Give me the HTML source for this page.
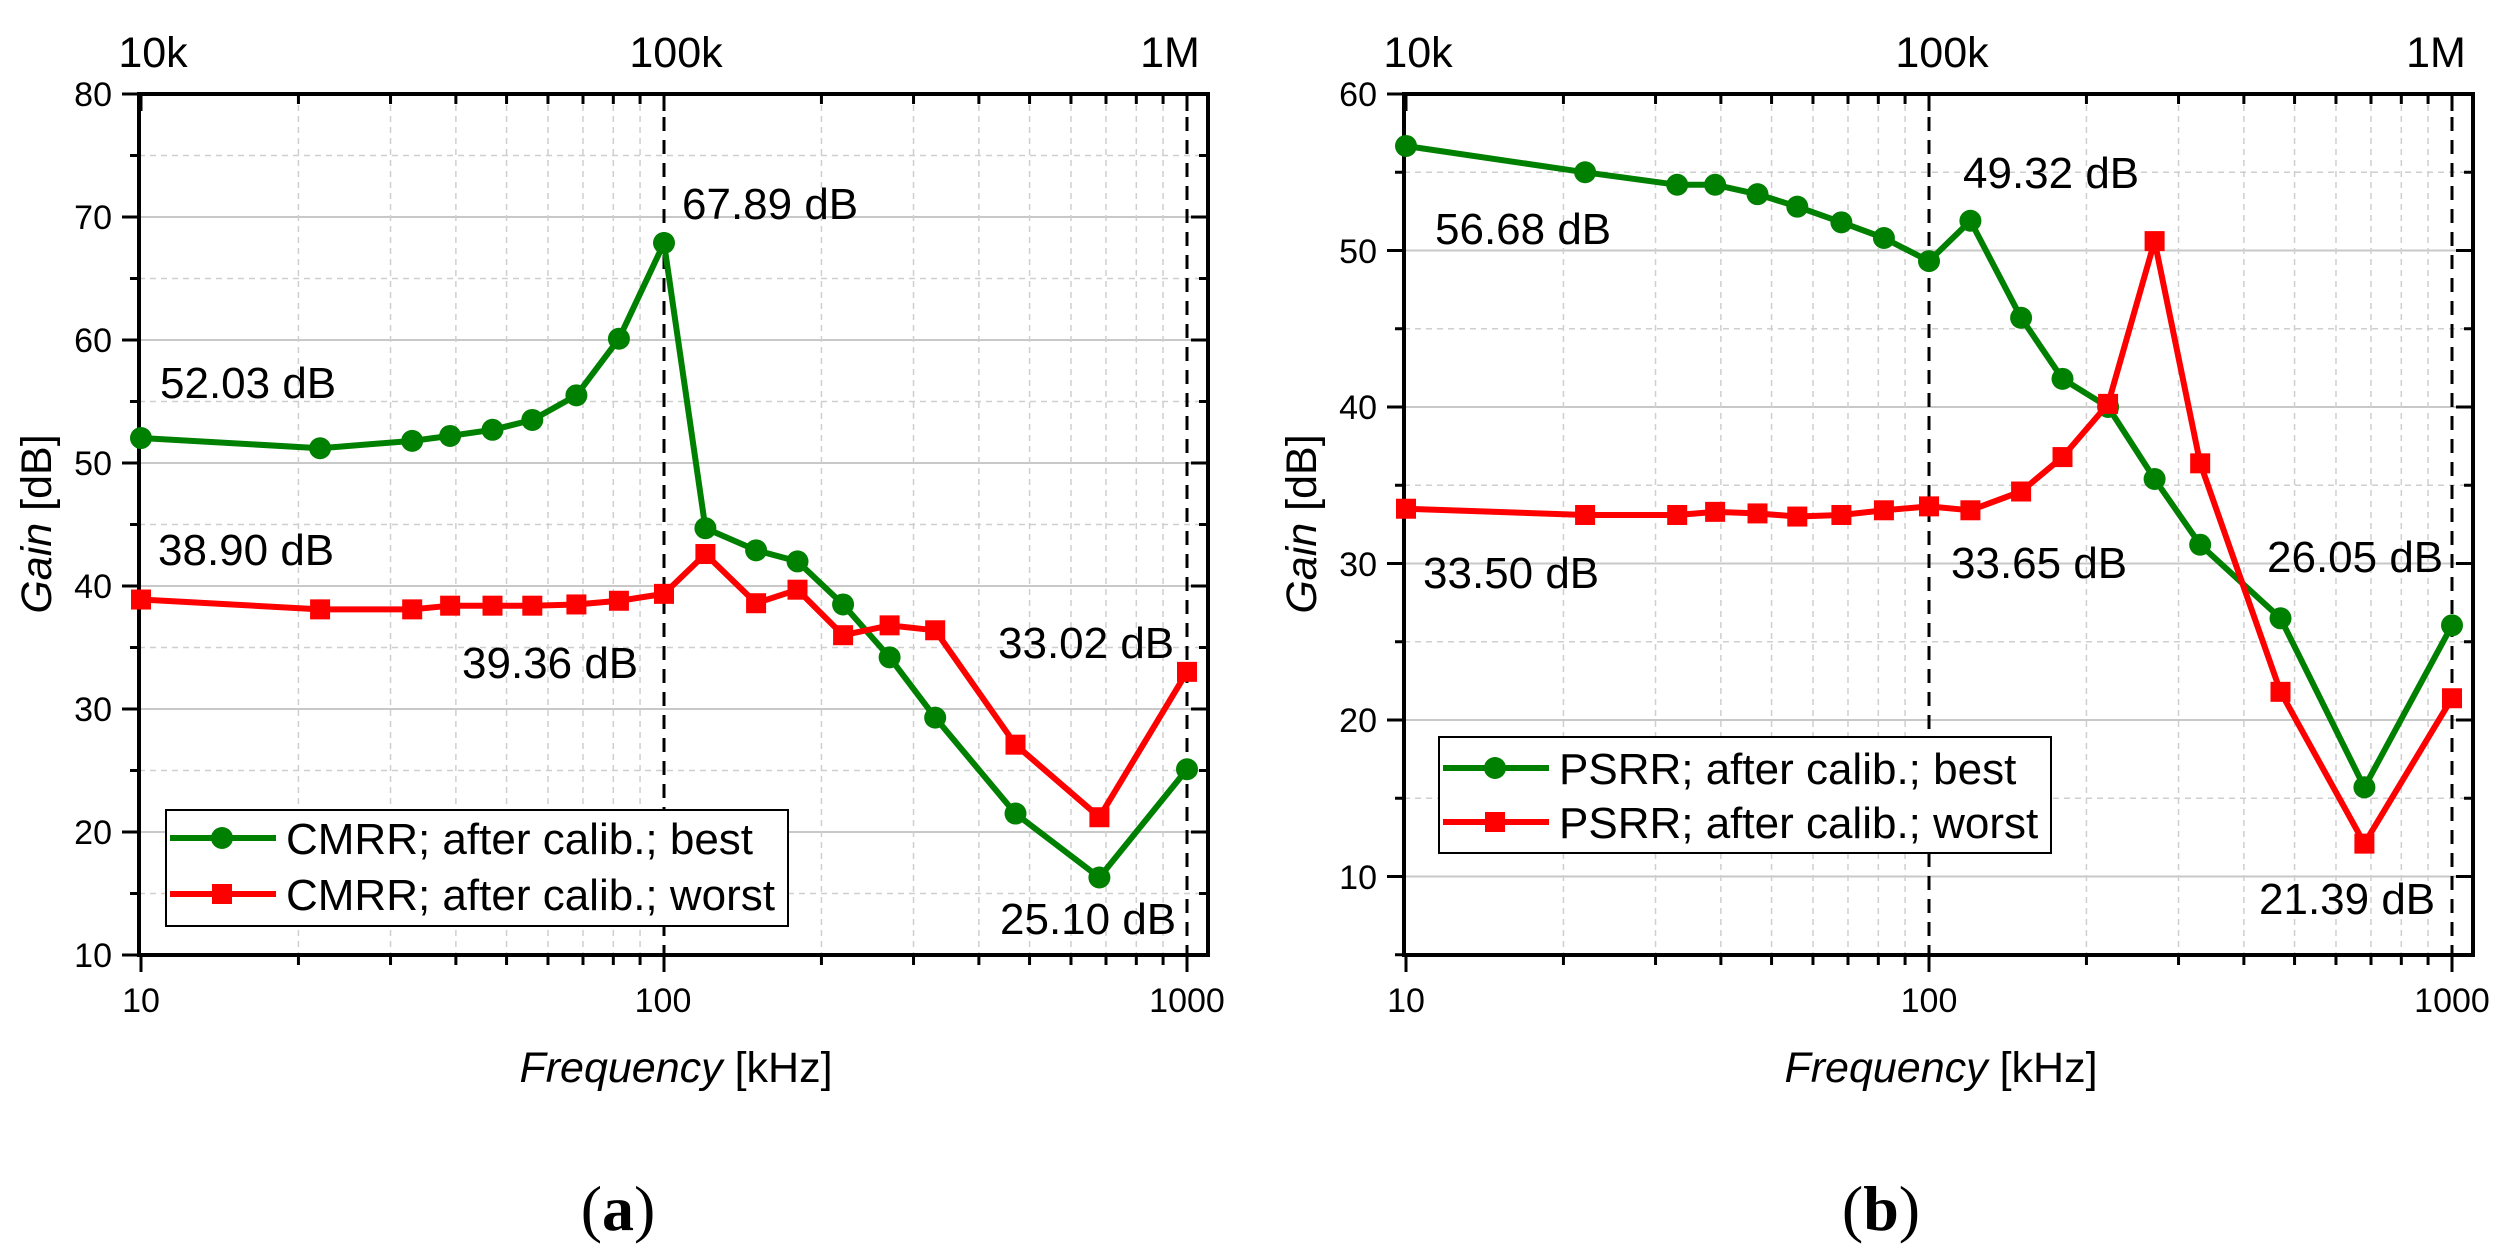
<!DOCTYPE html>
<html><head><meta charset="utf-8"><style>
html,body{margin:0;padding:0;background:#fff;}
svg{display:block;font-family:"Liberation Sans",Arial,sans-serif;}
.tk{font-size:34px;}
.tp{font-size:43px;}
.an{font-size:44px;}
.lg{font-size:44px;}
.ttl{font-size:43px;}
.cap{font-family:"Liberation Serif",serif;font-size:64px;}
</style></head><body>
<svg id="s" width="2499" height="1250" viewBox="0 0 2499 1250" xmlns="http://www.w3.org/2000/svg">
<g id="g"></g>
<g class="tk" text-anchor="end">
<text x="112" y="106">80</text><text x="112" y="229">70</text><text x="112" y="352">60</text><text x="112" y="475">50</text>
<text x="112" y="598">40</text><text x="112" y="721">30</text><text x="112" y="844">20</text><text x="112" y="967">10</text>
</g>
<g class="tk" text-anchor="middle">
<text x="141" y="1012">10</text><text x="663" y="1012">100</text><text x="1187" y="1012">1000</text>
<text x="1406" y="1012">10</text><text x="1929" y="1012">100</text><text x="2452" y="1012">1000</text>
</g>
<g class="tk" text-anchor="end">
<text x="1377" y="106">60</text><text x="1377" y="263">50</text><text x="1377" y="419">40</text><text x="1377" y="576">30</text>
<text x="1377" y="732">20</text><text x="1377" y="889">10</text>
</g>
<g class="tp" text-anchor="middle">
<text x="153" y="67">10k</text><text x="676" y="67">100k</text><text x="1170" y="67">1M</text>
<text x="1418" y="67">10k</text><text x="1942" y="67">100k</text><text x="2436" y="67">1M</text>
</g>
<g class="an">
<text x="160" y="398">52.03 dB</text><text x="682" y="219">67.89 dB</text><text x="158" y="565">38.90 dB</text>
<text x="462" y="678">39.36 dB</text><text x="998" y="658">33.02 dB</text><text x="1000" y="934">25.10 dB</text>
<text x="1435" y="244">56.68 dB</text><text x="1963" y="188">49.32 dB</text><text x="1423" y="588">33.50 dB</text>
<text x="1951" y="578">33.65 dB</text><text x="2267" y="572">26.05 dB</text><text x="2259" y="914">21.39 dB</text>
</g>
<g class="ttl" text-anchor="middle">
<text x="676" y="1082"><tspan font-style="italic">Frequency</tspan> [kHz]</text>
<text x="1941" y="1082"><tspan font-style="italic">Frequency</tspan> [kHz]</text>
<text transform="translate(51,524) rotate(-90)"><tspan font-style="italic">Gain</tspan> [dB]</text>
<text transform="translate(1316,524) rotate(-90)"><tspan font-style="italic">Gain</tspan> [dB]</text>
</g>
<g class="cap" text-anchor="middle">
<text x="618" y="1230">(<tspan font-weight="bold">a</tspan>)</text><text x="1881" y="1230">(<tspan font-weight="bold">b</tspan>)</text>
</g>
<rect x="166" y="810" width="622" height="116" fill="#fff" stroke="#000" stroke-width="2"/>
<line x1="170" y1="838" x2="276" y2="838" stroke="#008000" stroke-width="6"/><circle cx="222" cy="838" r="11" fill="#008000"/>
<line x1="170" y1="894" x2="276" y2="894" stroke="#ff0000" stroke-width="6"/><rect x="212" y="884" width="20" height="20" fill="#ff0000"/>
<text class="lg" x="286" y="854">CMRR; after calib.; best</text>
<text class="lg" x="286" y="910">CMRR; after calib.; worst</text>
<rect x="1439" y="737" width="612" height="116" fill="#fff" stroke="#000" stroke-width="2"/>
<line x1="1443" y1="768" x2="1549" y2="768" stroke="#008000" stroke-width="6"/><circle cx="1495" cy="768" r="11" fill="#008000"/>
<line x1="1443" y1="822" x2="1549" y2="822" stroke="#ff0000" stroke-width="6"/><rect x="1485" y="812" width="20" height="20" fill="#ff0000"/>
<text class="lg" x="1559" y="784">PSRR; after calib.; best</text>
<text class="lg" x="1559" y="838">PSRR; after calib.; worst</text>
</svg>
<script>
var NS="http://www.w3.org/2000/svg",G=document.getElementById("g");
function el(t,a){var e=document.createElementNS(NS,t);for(var k in a)e.setAttribute(k,a[k]);G.appendChild(e);return e;}
var F=[10,22,33,39,47,56,68,82,100,120,150,180,220,270,330,470,680,1000];
function plot(c){
 var X=function(f){return c.x0+523*Math.log10(f/10);},Y=function(v){return 94+(c.ymax-v)*c.py;};
 var L=c.x0-2,R=c.xr,T=94,B=955;
 for(var v=c.ymin;v<=c.ymax;v+=5){var y=Y(v);if(y<=T+1||y>=B-1)continue;
  if(v%10==0)el("line",{x1:L,x2:R,y1:y,y2:y,stroke:"#c8c8c8","stroke-width":2});
  else el("line",{x1:L,x2:R,y1:y,y2:y,stroke:"#cfcfcf","stroke-width":1.5,"stroke-dasharray":"6,5"});}
 [10,100].forEach(function(d){for(var m=2;m<=9;m++){var x=X(d*m);if(x>R)continue;el("line",{x1:x,x2:x,y1:T,y2:B,stroke:"#cfcfcf","stroke-width":1.5,"stroke-dasharray":"6,5"});}});
 [100,1000].forEach(function(d){var x=X(d);el("line",{x1:x,x2:x,y1:T,y2:B,stroke:"#000","stroke-width":3,"stroke-dasharray":"14,9"});});
 for(var v=c.ymin;v<=c.ymax;v+=5){var y=Y(v),mj=(v%10==0),l=mj?17:9;
  el("line",{x1:L-l,x2:L,y1:y,y2:y,stroke:"#000","stroke-width":3});
  el("line",{x1:R,x2:R-l,y1:y,y2:y,stroke:"#000","stroke-width":3});}
 [10,100,1000].forEach(function(d){for(var m=1;m<=9;m++){var f=d*m;if(f>1000)break;var x=X(f),l=m==1?17:10;
  el("line",{x1:x,x2:x,y1:B,y2:B+l,stroke:"#000","stroke-width":3});
  el("line",{x1:x,x2:x,y1:T,y2:T+l,stroke:"#000","stroke-width":3});}});
 el("rect",{x:L,y:T,width:R-L,height:B-T,fill:"none",stroke:"#000","stroke-width":4});
 [[c.b,"#008000",0],[c.w,"#ff0000",1]].forEach(function(s){
  var p=F.map(function(f,i){return X(f).toFixed(1)+","+Y(s[0][i]).toFixed(1);}).join(" ");
  el("polyline",{points:p,fill:"none",stroke:s[1],"stroke-width":6,"stroke-linejoin":"round"});
  F.forEach(function(f,i){var x=X(f),y=Y(s[0][i]);
   if(s[2]==0)el("circle",{cx:x,cy:y,r:11,fill:s[1]});else el("rect",{x:x-10,y:y-10,width:20,height:20,fill:s[1]});});
 });
}
plot({x0:141,xr:1208,ymin:10,ymax:80,py:12.3,
 b:[52.03,51.2,51.8,52.2,52.7,53.5,55.5,60.1,67.89,44.7,42.9,42,38.5,34.2,29.3,21.5,16.3,25.1],
 w:[38.9,38.1,38.1,38.4,38.4,38.4,38.5,38.8,39.36,42.6,38.6,39.7,36,36.8,36.4,27.1,21.2,33.02]});
plot({x0:1406,xr:2473,ymin:5,ymax:60,py:15.65,
 b:[56.68,55,54.2,54.2,53.6,52.8,51.8,50.8,49.32,51.9,45.7,41.8,40,35.4,31.2,26.5,15.7,26.05],
 w:[33.5,33.1,33.1,33.3,33.2,33.0,33.1,33.4,33.65,33.4,34.6,36.8,40.2,50.6,36.4,21.8,12.1,21.39]});
</script>
</body></html>
